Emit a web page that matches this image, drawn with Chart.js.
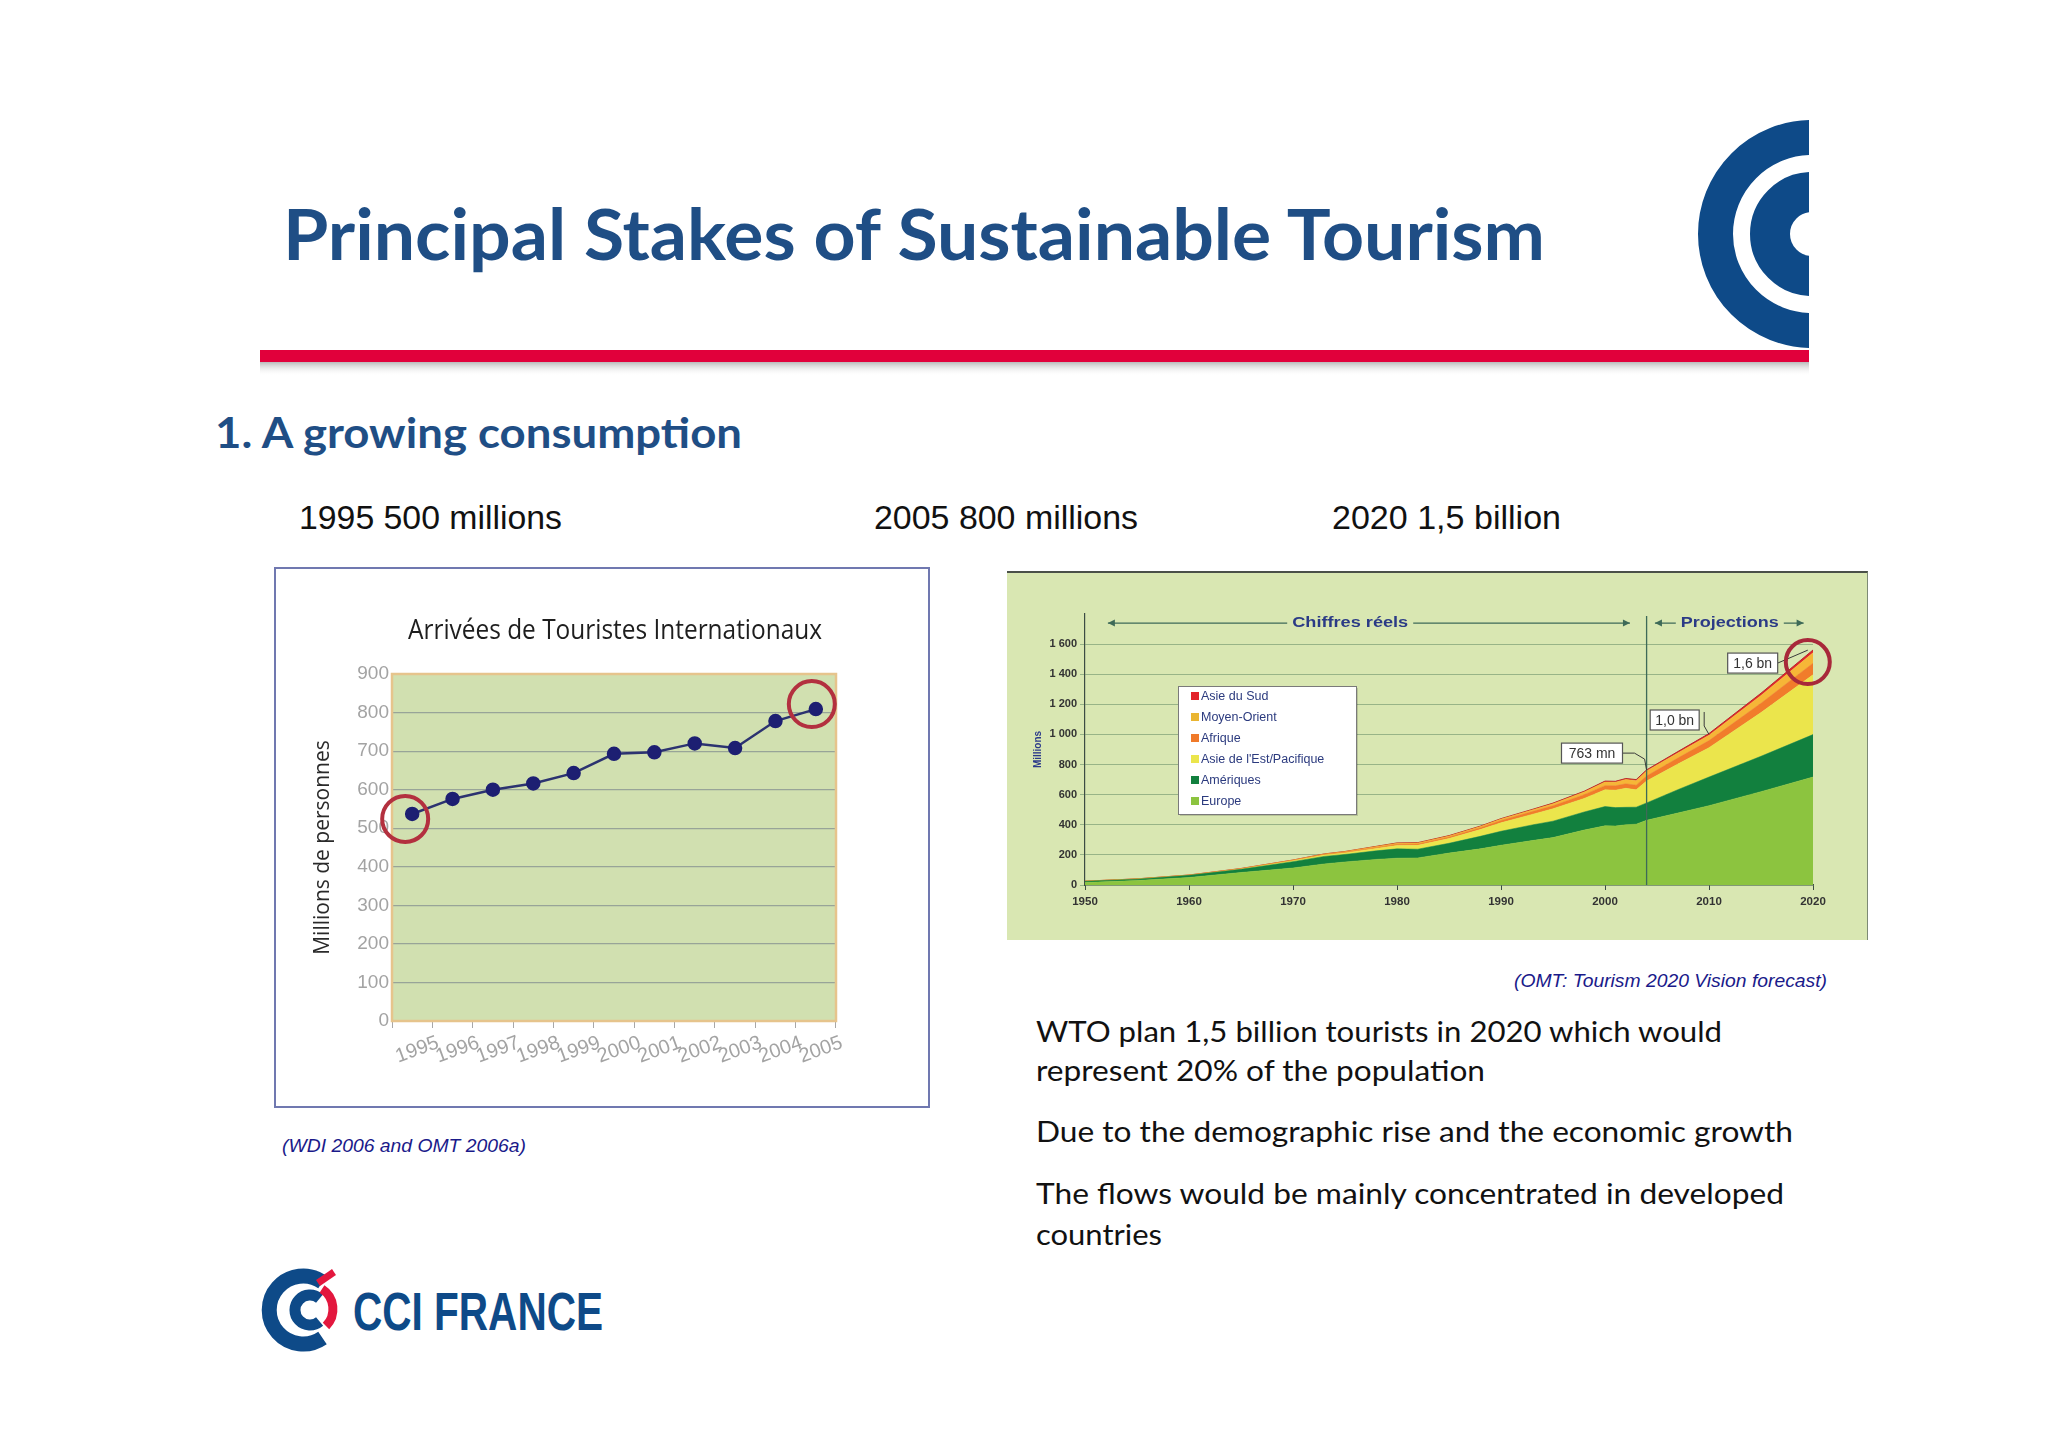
<!DOCTYPE html>
<html><head><meta charset="utf-8">
<script src="https://cdn.jsdelivr.net/npm/chart.js@4.4.1/dist/chart.umd.min.js"></script>
<style>
html,body{margin:0;padding:0;background:#fff;}
body{width:2048px;height:1447px;position:relative;overflow:hidden;}
#slide{position:absolute;left:0;top:0;}
#leftBox{position:absolute;left:274px;top:567px;width:656px;height:541px;border:2px solid #7078b0;box-sizing:border-box;background:#fff;}
#rightBox{position:absolute;left:1007px;top:571px;width:861px;height:369px;border-top:2px solid #4a5048;border-right:1px solid #7d8a74;box-sizing:border-box;background:#d9e7b2;}
canvas{display:block;}
</style>
</head><body>
<svg id="slide" width="2048" height="1447" xmlns="http://www.w3.org/2000/svg">
  <defs>
    <clipPath id="logoClip"><rect x="1600" y="100" width="209" height="260"/></clipPath>
    <linearGradient id="shadow" x1="0" y1="0" x2="0" y2="1">
      <stop offset="0" stop-color="#a8a8a8" stop-opacity="0.8"/>
      <stop offset="1" stop-color="#ffffff" stop-opacity="0"/>
    </linearGradient>
  </defs>
  <g clip-path="url(#logoClip)">
    <circle cx="1812" cy="234" r="96.5" fill="none" stroke="#0e4a88" stroke-width="35"/>
    <circle cx="1812" cy="234" r="42" fill="none" stroke="#0e4a88" stroke-width="40"/>
  </g>
  <text x="283" y="260" font-family="Lato" font-weight="700" font-size="70" fill="#1f4e85" textLength="1262" lengthAdjust="spacingAndGlyphs">Principal Stakes of Sustainable Tourism</text>
  <rect x="260" y="362" width="1549" height="14" fill="url(#shadow)"/>
  <rect x="260" y="350" width="1549" height="12" fill="#e1003b"/>
  <text x="215" y="448" font-family="Lato" font-weight="700" font-size="42" fill="#1f4e85" textLength="527" lengthAdjust="spacingAndGlyphs">1. A growing consumption</text>
  <text x="299" y="529" font-family="Liberation Sans" font-size="34" fill="#111" textLength="263" lengthAdjust="spacingAndGlyphs">1995 500 millions</text>
  <text x="874" y="529" font-family="Liberation Sans" font-size="34" fill="#111" textLength="264" lengthAdjust="spacingAndGlyphs">2005 800 millions</text>
  <text x="1332" y="529" font-family="Liberation Sans" font-size="34" fill="#111" textLength="229" lengthAdjust="spacingAndGlyphs">2020 1,5 billion</text>
  <text x="1514" y="987" font-family="Liberation Sans" font-style="italic" font-size="19" fill="#1a1a8a" textLength="313" lengthAdjust="spacingAndGlyphs">(OMT: Tourism 2020 Vision forecast)</text>
  <text x="282" y="1152" font-family="Liberation Sans" font-style="italic" font-size="19" fill="#1a1a8a" textLength="244" lengthAdjust="spacingAndGlyphs">(WDI 2006 and OMT 2006a)</text>
  <g font-family="Lato" font-size="29" fill="#111">
    <text x="1036" y="1042" textLength="686" lengthAdjust="spacingAndGlyphs">WTO plan 1,5 billion tourists in 2020 which would</text>
    <text x="1036" y="1081" textLength="449" lengthAdjust="spacingAndGlyphs">represent 20% of the population</text>
    <text x="1036" y="1142" textLength="757" lengthAdjust="spacingAndGlyphs">Due to the demographic rise and the economic growth</text>
    <text x="1036" y="1204" textLength="748" lengthAdjust="spacingAndGlyphs">The flows would be mainly concentrated in developed</text>
    <text x="1036" y="1245" textLength="126" lengthAdjust="spacingAndGlyphs">countries</text>
  </g>
  <!-- CCI France logo -->
  <path d="M 322.5 1282 A 34 34 0 1 0 322.5 1338" fill="none" stroke="#0e4a88" stroke-width="15"/>
  <path d="M 319.6 1298.5 A 15 15 0 1 0 319.6 1321.5" fill="none" stroke="#0e4a88" stroke-width="11"/>
  <path d="M 322 1289 A 24 24 0 0 1 326 1326" fill="none" stroke="#e3173e" stroke-width="9"/>
  <path d="M 318 1283 L 334 1272" stroke="#e3173e" stroke-width="7"/>
  <text x="353" y="1330" font-family="Liberation Sans" font-weight="700" font-size="54" fill="#0e4a88" textLength="250" lengthAdjust="spacingAndGlyphs">CCI FRANCE</text>
</svg>

<div id="leftBox"><canvas id="leftChart" width="652" height="537"></canvas></div>
<div id="rightBox"><canvas id="rightChart" width="860" height="367"></canvas></div>

<script>
// ---------- Left chart data ----------
const leftYears = ['1995','1996','1997','1998','1999','2000','2001','2002','2003','2004','2005'];
const leftArrivals = [537, 576, 600, 616, 643, 693, 697, 720, 708, 778, 809];
const leftTitle = 'Arrivées de Touristes Internationaux';
const leftYLabel = 'Millions de personnes';

// ---------- Right chart data (millions) ----------
const rightYears = [1950,1955,1960,1965,1970,1973,1975,1978,1980,1982,1985,1988,1990,1993,1995,1998,2000,2001,2002,2003,2004,2007,2010,2015,2020];
const europe      = [17,30,50,83,113,140,153,170,178,180,212,240,264,295,315,365,393,392,400,404,430,478,527,620,717];
const ameriques   = [7.5,9,14,21,42,50,50,57,62,58,65,83,93,104,109,120,128,122,116,113,115,155,190,235,282];
const asieEst     = [0.2,0.5,0.8,2.1,6,9,10,16,23,26,32,45,56,70,82,90,111,116,126,115,146,170,195,290,397];
const afrique     = [0.5,0.7,0.8,1.5,2.4,3.5,4.7,6,7.2,7.5,9.7,12.5,15,18.5,20,25,28,29,30,31,33,40,47,62,77];
const moyenOrient = [0.2,0.5,0.6,1.5,1.9,3,4,6,7.1,7.5,6.8,7.5,9.6,11,13.7,18,24,24,29,30,33,34,36,52,69];
const asieSud     = [0.04,0.1,0.2,0.5,0.7,0.9,1,1.7,2.2,2.4,2.5,2.9,3.2,3.5,4.2,5,6.1,5.8,6.4,7.1,7.6,9,11,15,19];
const seriesNames = ['Europe','Amériques',"Asie de l'Est/Pacifique",'Afrique','Moyen-Orient','Asie du Sud'];
const rightXTicks = [1950,1960,1970,1980,1990,2000,2010,2020];
const annotations = [
  {text:'763 mn', year:2004, value:763},
  {text:'1,0 bn', year:2010, value:1000},
  {text:'1,6 bn', year:2019.5, value:1560}
];
const splitYear = 2004;

// ================= LEFT CHART =================
const leftPlugin = {
  id: 'leftDeco',
  beforeDraw(chart) {
    const {ctx, chartArea: a} = chart;
    ctx.save();
    ctx.fillStyle = '#fff';
    ctx.fillRect(0, 0, chart.width, chart.height);
    ctx.fillStyle = '#d1e0b0';
    ctx.fillRect(a.left, a.top, a.right - a.left, a.bottom - a.top);
    ctx.restore();
  },
  beforeDatasetsDraw(chart) {
    const {ctx, chartArea: a} = chart;
    ctx.save();
    ctx.strokeStyle = '#e6c48c';
    ctx.lineWidth = 2.5;
    ctx.strokeRect(a.left, a.top, a.right - a.left, a.bottom - a.top);
    ctx.restore();
  },
  afterDatasetsDraw(chart) {
    const {ctx, chartArea: a} = chart;
    const meta = chart.getDatasetMeta(0);
    const first = meta.data[0], last = meta.data[meta.data.length - 1];
    ctx.save();
    ctx.strokeStyle = '#b3303f';
    ctx.lineWidth = 4;
    ctx.beginPath(); ctx.arc(first.x - 7, first.y + 5, 23, 0, Math.PI * 2); ctx.stroke();
    ctx.beginPath(); ctx.arc(last.x - 4, last.y - 5, 23, 0, Math.PI * 2); ctx.stroke();
    // title
    ctx.font = '27px "Open Sans"';
    const w = ctx.measureText(leftTitle).width;
    ctx.translate((a.left + a.right) / 2 + 1, 70);
    ctx.scale(414 / w, 1);
    ctx.fillStyle = '#1e1e1e';
    ctx.textAlign = 'center';
    ctx.textBaseline = 'alphabetic';
    ctx.fillText(leftTitle, 0, 0);
    ctx.restore();
  }
};

new Chart(document.getElementById('leftChart'), {
  type: 'line',
  data: {
    labels: leftYears,
    datasets: [{
      label: 'Arrivées',
      data: leftArrivals,
      borderColor: '#2c3370',
      borderWidth: 2.5,
      pointBackgroundColor: '#1d1f72',
      pointBorderColor: '#1d1f72',
      pointRadius: 6,
      tension: 0
    }]
  },
  options: {
    responsive: false,
    animation: false,
    layout: {padding: {left: 0, right: 92, top: 105, bottom: 0}},
    plugins: {legend: {display: false}, tooltip: {enabled: false}, title: {display: false}},
    scales: {
      x: {
        offset: true,
        grid: {offset: true, drawOnChartArea: false, drawTicks: true, tickLength: 7, color: '#a8a8a8'},
        border: {display: false},
        ticks: {autoSkip: false, minRotation: 20, maxRotation: 20, padding: 3, labelOffset: 26,
                color: '#a3a3a3', font: {family: 'Liberation Sans', size: 20}},
        afterFit(s) { s.height = 85; }
      },
      y: {
        min: 0, max: 900,
        grid: {color: '#98a498', lineWidth: 1.2, drawTicks: false},
        border: {display: false},
        ticks: {stepSize: 100, padding: 3, color: '#a3a3a3', font: {family: 'Liberation Sans', size: 19}},
        title: {display: true, text: leftYLabel, color: '#2a2a2a', font: {family: 'Open Sans', size: 21}, padding: {top: 34, bottom: 0}},
        afterFit(s) { s.width = 116; }
      }
    }
  },
  plugins: [leftPlugin]
});

// ================= RIGHT CHART =================
const areaColors = ['#8cc43f', '#12803e', '#ebe54c', '#f17c2b', '#f6b637', '#e2242c'];
const legendColors = ['#8cc43f', '#12803e', '#ebe54c', '#f07a2a', '#eab531', '#e2242c'];
const seriesData = [europe, ameriques, asieEst, afrique, moyenOrient, asieSud];

function arrow(ctx, x, y, dir) {
  ctx.beginPath();
  ctx.moveTo(x, y);
  ctx.lineTo(x - dir * 7, y - 3.5);
  ctx.lineTo(x - dir * 7, y + 3.5);
  ctx.closePath();
  ctx.fill();
}

const rightPlugin = {
  id: 'rightDeco',
  afterDatasetsDraw(chart) {
    const {ctx, chartArea: a, scales: {x, y}} = chart;
    const lineCol = '#3e6a58';
    ctx.save();
    // split line
    const sx = x.getPixelForValue(splitYear);
    ctx.strokeStyle = lineCol; ctx.lineWidth = 1.3;
    ctx.beginPath(); ctx.moveTo(sx, a.top + 2); ctx.lineTo(sx, a.bottom); ctx.stroke();

    // headings with arrows
    ctx.font = 'bold 15.5px "Liberation Sans"';
    ctx.textBaseline = 'middle'; ctx.textAlign = 'center';
    const hy = y.getPixelForValue(1740);
    const heads = [
      {t: 'Chiffres réels', c: 1975.5, l: 1952.2, r: 2002.4, w: 116},
      {t: 'Projections', c: 2012, l: 2004.8, r: 2019.1, w: 98}
    ];
    heads.forEach(h => {
      const cx = x.getPixelForValue(h.c);
      const mw = ctx.measureText(h.t).width;
      ctx.save();
      ctx.translate(cx, hy); ctx.scale(h.w / mw, 1);
      ctx.fillStyle = '#2b3b86'; ctx.fillText(h.t, 0, 0);
      ctx.restore();
      const lx = x.getPixelForValue(h.l), rx = x.getPixelForValue(h.r);
      ctx.strokeStyle = lineCol; ctx.fillStyle = lineCol; ctx.lineWidth = 1.2;
      ctx.beginPath(); ctx.moveTo(lx, hy); ctx.lineTo(cx - h.w / 2 - 5, hy);
      ctx.moveTo(cx + h.w / 2 + 5, hy); ctx.lineTo(rx, hy); ctx.stroke();
      arrow(ctx, lx, hy, -1); arrow(ctx, rx, hy, 1);
    });

    // annotation boxes
    const boxes = [
      {cx: 1998.75, cv: 876, w: 61},
      {cx: 2006.7, cv: 1096, w: 49},
      {cx: 2014.2, cv: 1474, w: 50}
    ];
    ctx.font = '14px "Liberation Sans"';
    annotations.forEach((an, i) => {
      const b = boxes[i];
      const bx = x.getPixelForValue(b.cx), by = y.getPixelForValue(b.cv);
      const px = x.getPixelForValue(an.year), py = y.getPixelForValue(an.value);
      ctx.strokeStyle = '#3a3a3a'; ctx.lineWidth = 1;
      ctx.beginPath();
      if (i === 0) {
        ctx.moveTo(bx + b.w / 2, by); ctx.lineTo(bx + b.w / 2 + 12, by);
        ctx.lineTo(px - 2, by + 6); ctx.lineTo(px, py);
      } else if (i === 1) {
        ctx.moveTo(bx + b.w / 2 + 5, by - 8); ctx.lineTo(bx + b.w / 2 + 5, by + 6); ctx.lineTo(px, py);
      } else {
        ctx.moveTo(bx + b.w / 2, by); ctx.lineTo(px, py);
      }
      ctx.stroke();
      ctx.fillStyle = '#fff';
      ctx.fillRect(bx - b.w / 2, by - 10, b.w, 20);
      ctx.strokeStyle = '#555'; ctx.lineWidth = 1.2;
      ctx.strokeRect(bx - b.w / 2, by - 10, b.w, 20);
      ctx.fillStyle = '#333'; ctx.textAlign = 'center'; ctx.textBaseline = 'middle';
      ctx.fillText(an.text, bx, by + 1);
    });

    // red circle
    ctx.strokeStyle = '#a8293a'; ctx.lineWidth = 4;
    ctx.beginPath();
    ctx.arc(x.getPixelForValue(2019.5), y.getPixelForValue(1481), 22, 0, Math.PI * 2);
    ctx.stroke();

    // legend box
    const L = {x: 171, y: 113, w: 178, h: 128};
    ctx.fillStyle = 'rgba(0,0,0,0.15)';
    ctx.fillRect(L.x + 2, L.y + 2, L.w, L.h);
    ctx.fillStyle = '#fff';
    ctx.fillRect(L.x, L.y, L.w, L.h);
    ctx.strokeStyle = '#7a7a7a'; ctx.lineWidth = 1;
    ctx.strokeRect(L.x + 0.5, L.y + 0.5, L.w, L.h);
    ctx.font = '12.5px "Liberation Sans"';
    ctx.textAlign = 'left'; ctx.textBaseline = 'middle';
    const ds = chart.data.datasets;
    for (let k = 0; k < ds.length; k++) {
      const d = ds[ds.length - 1 - k];
      const ry = 123 + k * 21;
      ctx.fillStyle = legendColors[ds.length - 1 - k];
      ctx.fillRect(184, ry - 4, 8, 8);
      ctx.fillStyle = '#2b3a7e';
      ctx.fillText(d.label, 194, ry + 0.5);
    }
    ctx.restore();
  }
};

const rightDatasets = seriesNames.map((name, i) => ({
  label: name,
  data: rightYears.map((yr, j) => ({x: yr, y: seriesData[i][j]})),
  backgroundColor: areaColors[i],
  borderColor: i === 5 ? '#b8282a' : areaColors[i],
  borderWidth: i === 5 ? 1 : 0.5,
  pointRadius: 0,
  fill: i === 0 ? 'origin' : '-1',
  tension: 0
}));

new Chart(document.getElementById('rightChart'), {
  type: 'line',
  data: {datasets: rightDatasets},
  options: {
    responsive: false,
    animation: false,
    layout: {padding: {left: 0, right: 54, top: 41, bottom: 0}},
    plugins: {legend: {display: false}, tooltip: {enabled: false}, filler: {propagate: false}},
    scales: {
      x: {
        type: 'linear', min: 1950, max: 2020,
        afterBuildTicks(s) { s.ticks = rightXTicks.map(v => ({value: v})); },
        grid: {drawOnChartArea: false, drawTicks: true, tickLength: 5, color: '#3c4c44'},
        border: {display: true, color: '#3c4c44', width: 1.2},
        ticks: {padding: 5, color: '#333', font: {family: 'Liberation Sans', size: 11.5, weight: 'bold'}, callback: v => String(v)},
        afterFit(s) { s.height = 55; }
      },
      y: {
        stacked: true, min: 0, max: 1800,
        grid: {color: c => (c.tick && c.tick.value === 1800) ? 'rgba(0,0,0,0)' : 'rgba(88,130,92,0.5)', lineWidth: 1, tickLength: 5},
        border: {display: true, color: '#3c4c44', width: 1.2},
        ticks: {stepSize: 200, padding: 3, color: '#333', font: {family: 'Liberation Sans', size: 11, weight: 'bold'},
                callback: v => v === 1800 ? '' : (v >= 1000 ? String(v).replace(/(\d)(\d{3})$/, '$1 $2') : String(v))},
        title: {display: true, text: 'Millions', color: '#2b3a8a', font: {family: 'Liberation Sans', size: 10, weight: 'bold'}, padding: {top: 25, bottom: 0}},
        afterFit(s) { s.width = 78; }
      }
    }
  },
  plugins: [rightPlugin]
});
</script>
</body></html>
